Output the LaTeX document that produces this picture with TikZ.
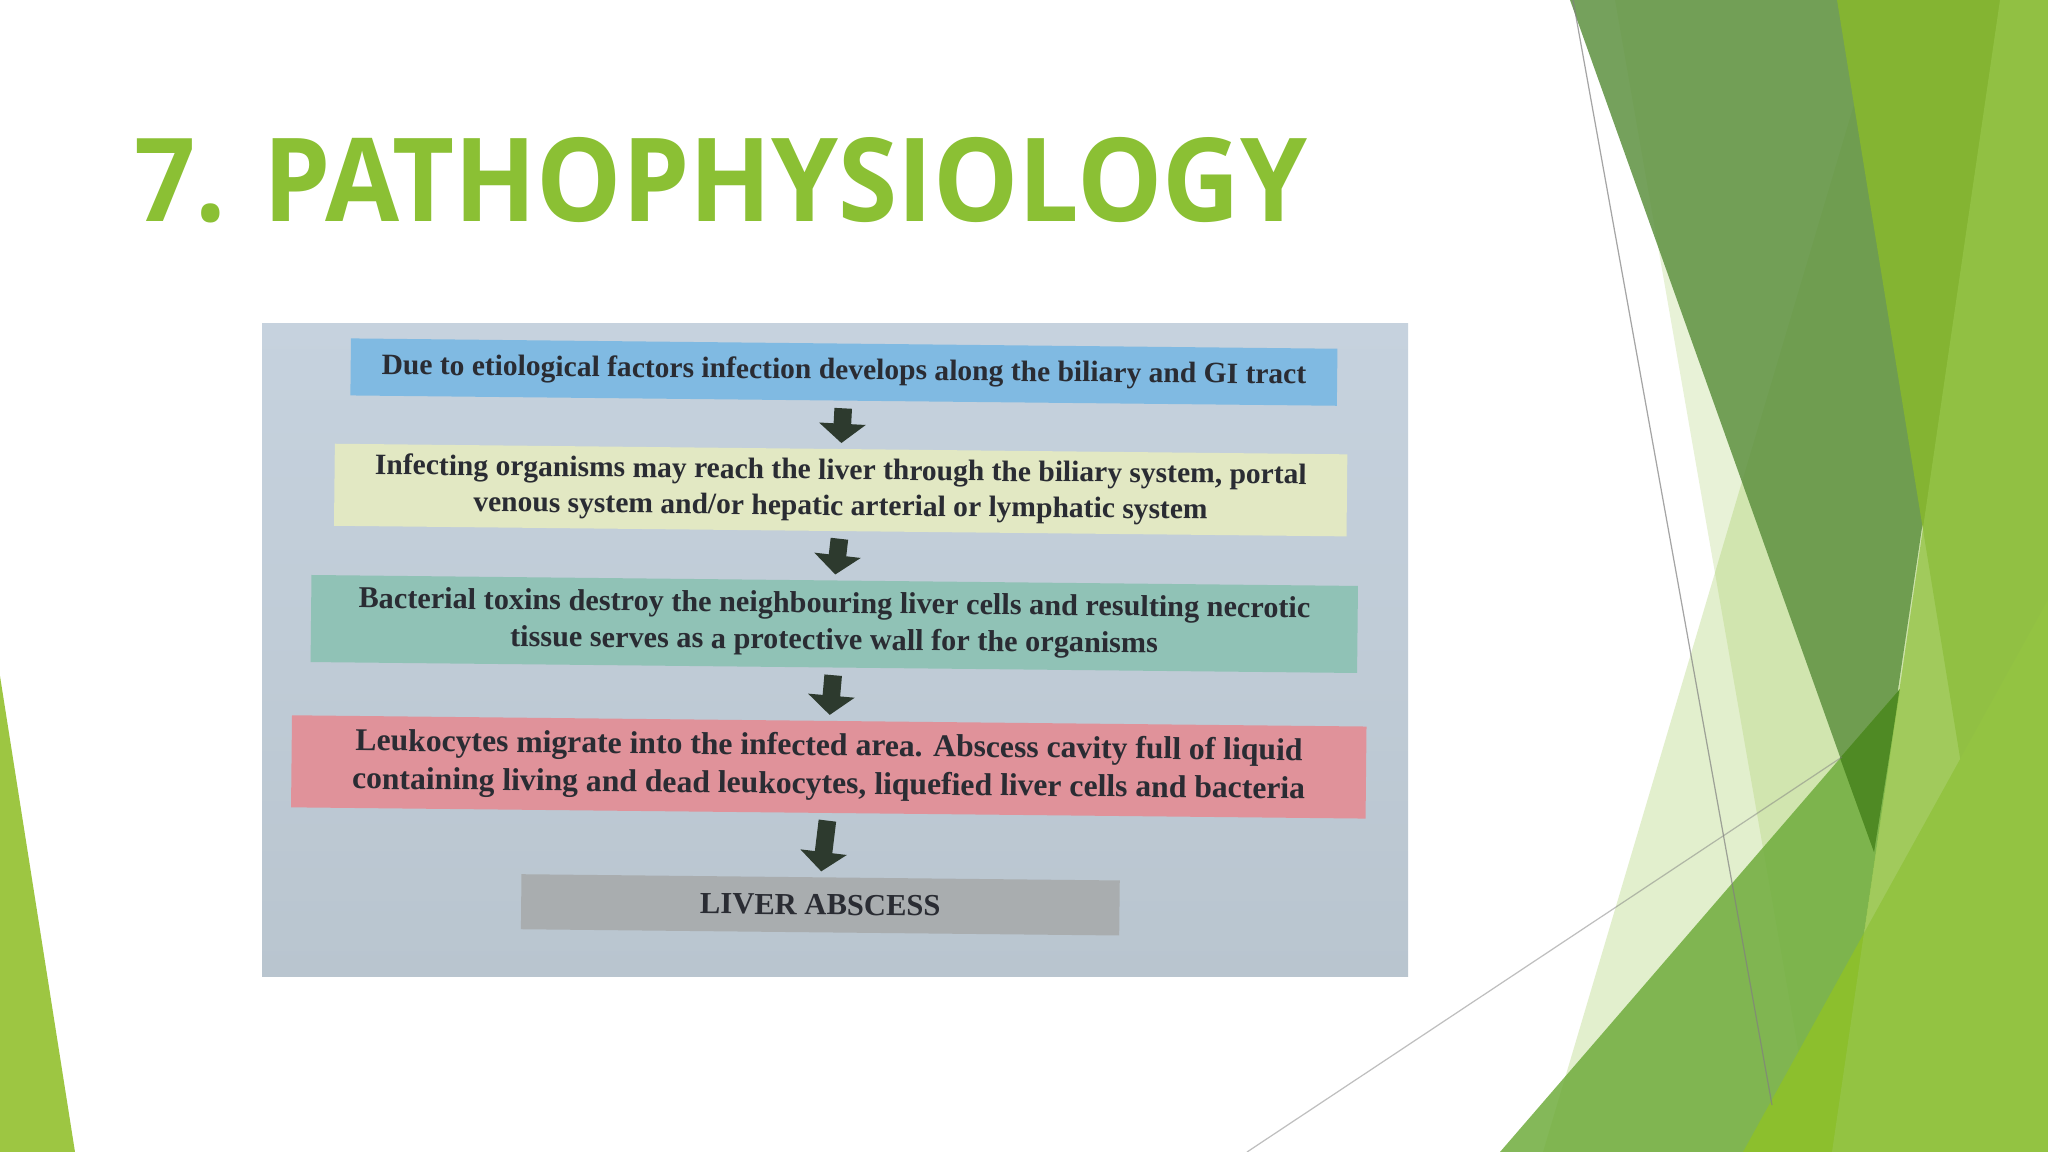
\documentclass[tikz,border=0pt]{standalone}
\usepackage{fontspec}
\setmainfont{Liberation Serif}
\newfontfamily\titlefont{Open Sans}[FakeStretch=0.925]
\usetikzlibrary{arrows.meta}
\definecolor{titlegreen}{HTML}{8BC034}
\definecolor{paleg}{HTML}{8FC13A}
\definecolor{darkg}{HTML}{5E9140}
\definecolor{medg}{HTML}{6FAC3C}
\definecolor{oliveg}{HTML}{4F8A24}
\definecolor{bandg}{HTML}{84B432}
\definecolor{rightg}{HTML}{95C448}
\definecolor{limeg}{HTML}{8CBF2D}
\definecolor{leftg}{HTML}{9DC642}
\definecolor{phototop}{HTML}{C6D2DE}
\definecolor{photobot}{HTML}{B9C5CF}
\definecolor{boxblue}{HTML}{80BAE2}
\definecolor{boxyellow}{HTML}{E2E8C3}
\definecolor{boxteal}{HTML}{90C2B6}
\definecolor{boxpink}{HTML}{E0929A}
\definecolor{boxgray}{HTML}{A9ADAF}
\definecolor{inkdark}{HTML}{2A2C33}
\definecolor{arrowdark}{HTML}{2D3A2E}
\tikzset{
  flowbox/.style={inner sep=0pt, align=center, text=inkdark},
  flowarrow/.style={draw=arrowdark, line width=5pt,
    -{Triangle[width=13pt,length=5.5pt]}, shorten <=2pt, shorten >=1.5pt},
  thinline/.style={draw=gray, line width=0.35pt, opacity=0.7}
}
\begin{document}
\begin{tikzpicture}[x=0.01cm,y=-0.01cm]
\useasboundingbox (0,0) rectangle (2048,1152);
\fill[white] (0,0) rectangle (2048,1152);
% decorative facets
\fill[paleg, opacity=0.2] (1615,0) -- (1816,1152) -- (2048,1152) -- (2048,0) -- cycle;
\fill[paleg, opacity=0.25] (1885,0) -- (1543,1152) -- (2048,1152) -- (2048,0) -- cycle;
\fill[darkg, opacity=0.85] (1570,0) -- (2000,0) -- (1874,852) -- cycle;
\fill[medg, opacity=0.85] (1500,1152) -- (1900,689) -- (1832,1152) -- cycle;
\fill[oliveg] (1840,758) -- (1900,689) -- (1874,852) -- cycle;
\fill[bandg] (1837,0) -- (2048,0) -- (2048,1152) -- (2024,1152) -- cycle;
\fill[limeg] (1743,1152) -- (2048,600) -- (2048,1152) -- cycle;
\fill[rightg, opacity=0.8] (2000,0) -- (2048,0) -- (2048,1152) -- (1832,1152) -- cycle;
\draw[thinline] (1573,0) -- (1772,1105);
\draw[thinline, opacity=0.5] (1247,1152) -- (1842,757);
\fill[leftg] (0,676) -- (75,1152) -- (0,1152) -- cycle;
% title
\node[anchor=base west, inner sep=0pt, text=titlegreen,
  font=\titlefont\bfseries\fontsize{33}{40}\selectfont] (title) at (134,222) {7. PATHOPHYSIOLOGY};
% photo
\shade[top color=phototop, bottom color=photobot] (262,324) rectangle (1408,976);
\node[inner sep=0pt, minimum width=11.46cm, minimum height=6.52cm] (photo) at (835,650) {};
\begin{scope}[rotate around={-0.6:(835,650)}, transform shape]
\node[flowbox, fill=boxblue, minimum width=9.86cm, minimum height=0.57cm,
  font=\bfseries\fontsize{8.4}{10}\selectfont] (b1) at (841,372)
  {Due to etiological factors infection develops along the biliary and GI tract};
\node[flowbox, fill=boxyellow, minimum width=10.12cm, minimum height=0.82cm,
  font=\bfseries\fontsize{8.4}{10.2}\selectfont] (b2) at (839,490)
  {Infecting organisms may reach the liver through the biliary system, portal\\venous system and/or hepatic arterial or lymphatic system};
\node[flowbox, fill=boxteal, minimum width=10.46cm, minimum height=0.87cm,
  font=\bfseries\fontsize{8.6}{10.4}\selectfont] (b3) at (834,624)
  {Bacterial toxins destroy the neighbouring liver cells and resulting necrotic\\tissue serves as a protective wall for the organisms};
\node[flowbox, fill=boxpink, minimum width=10.74cm, minimum height=0.92cm,
  font=\bfseries\fontsize{9}{10.9}\selectfont] (b4) at (830,767)
  {Leukocytes migrate into the infected area. Abscess cavity full of liquid\\containing living and dead leukocytes, liquefied liver cells and bacteria};
\node[flowbox, fill=boxgray, minimum width=5.98cm, minimum height=0.55cm,
  font=\bfseries\fontsize{8.7}{10}\selectfont] (b5) at (823,905)
  {LIVER ABSCESS};
\draw[flowarrow] (b1.south) -- (b2.north);
\draw[flowarrow] (b2.south) -- (b3.north);
\draw[flowarrow] (b3.south) -- (b4.north);
\draw[flowarrow] (b4.south) -- (b5.north);
\end{scope}
\end{tikzpicture}
\end{document}
